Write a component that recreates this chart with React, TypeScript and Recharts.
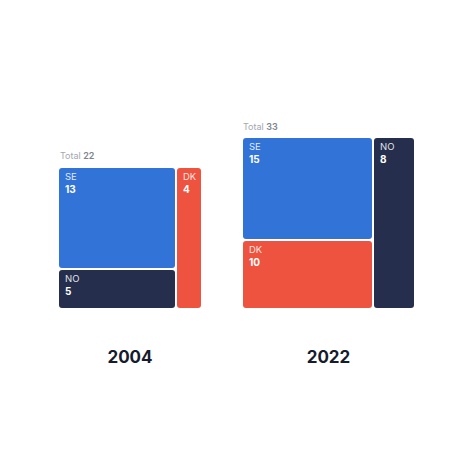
import React from "react";
import { Treemap } from "recharts";

const years = ["2004", "2022"];
const names2004 = ["SE", "NO", "DK"];
const values2004 = [13, 5, 4];
const names2022 = ["SE", "DK", "NO"];
const values2022 = [15, 10, 8];

const COLORS: Record<string, string> = {
  SE: "#3273D7",
  DK: "#EE5340",
  NO: "#252F4D",
};

const FONT = "Inter, 'Noto Sans', sans-serif";

const Cell = (props: any) => {
  const { x, y, width, height, depth, name, value } = props;
  if (depth !== 1) return null;
  const g = 1;
  return (
    <g>
      <rect
        x={x + g}
        y={y + g}
        width={Math.max(0, width - 2 * g)}
        height={Math.max(0, height - 2 * g)}
        rx={3}
        ry={3}
        fill={COLORS[name]}
        stroke="none"
      />
      <text x={x + 7} y={y + 13} fill="#ffffff" fillOpacity={0.88} fontSize={9.5} fontFamily={FONT} stroke="none">
        {name}
      </text>
      <text x={x + 7} y={y + 25.5} fill="#ffffff" fontSize={10} fontWeight={700} fontFamily={FONT} stroke="none">
        {value}
      </text>
    </g>
  );
};

const makeData = (names: string[], values: number[]) =>
  names.map((n, i) => ({ name: n, value: values[i] }));

const sum = (a: number[]) => a.reduce((s, v) => s + v, 0);

export default function App() {
  const d1 = makeData(names2004, values2004);
  const d2 = makeData(names2022, values2022);
  return (
    <div style={{ position: "fixed", left: 0, top: 0, width: 474, height: 474, background: "#fff" }}>
      <div style={{ position: "absolute", left: 58, top: 167 }}>
        <Treemap
          width={144}
          height={142}
          data={d1}
          dataKey="value"
          nameKey="name"
          stroke="none"
          content={<Cell />}
          isAnimationActive={false}
        />
      </div>
      <div style={{ position: "absolute", left: 242, top: 137 }}>
        <Treemap
          width={173}
          height={172}
          data={d2}
          dataKey="value"
          nameKey="name"
          stroke="none"
          content={<Cell />}
          isAnimationActive={false}
        />
      </div>
      <svg width={474} height={474} style={{ position: "absolute", left: 0, top: 0, pointerEvents: "none" }}>
        <text x={60} y={159} fontSize={9} fontFamily={FONT}>
          <tspan fill="#A3A8B0">Total </tspan>
          <tspan fill="#7E848D" fontWeight={600}>{sum(values2004)}</tspan>
        </text>
        <text x={243} y={130} fontSize={9} fontFamily={FONT}>
          <tspan fill="#A3A8B0">Total </tspan>
          <tspan fill="#7E848D" fontWeight={600}>{sum(values2022)}</tspan>
        </text>
        <text x={130} y={363} textAnchor="middle" fontSize={17} fontWeight={700} fontFamily={FONT} fill="#161B2E">
          {years[0]}
        </text>
        <text x={328.5} y={363} textAnchor="middle" fontSize={17} fontWeight={700} fontFamily={FONT} fill="#161B2E">
          {years[1]}
        </text>
      </svg>
    </div>
  );
}
